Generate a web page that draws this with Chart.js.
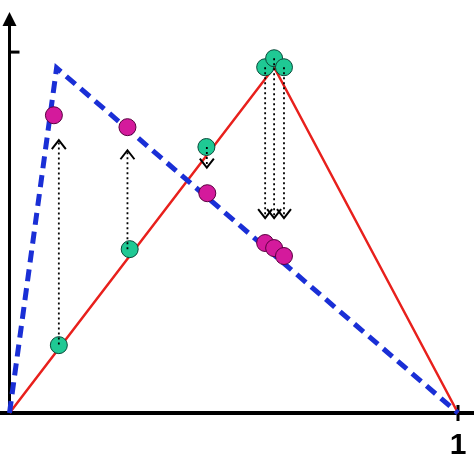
<!DOCTYPE html><html><head><script src="https://cdn.jsdelivr.net/npm/chart.js"></script>
<style>html,body{margin:0;background:#fff}#w{width:474px;height:474px}</style></head><body><div id="w"><canvas id="c"></canvas></div>
<script>
const redX=[0,0.59,1], redY=[0,0.958,0];
const blueX=[0,0.105,1], blueY=[0,0.956,0];
const greenX=[0.11,0.268,0.439,0.57,0.59,0.612], greenY=[0.188,0.454,0.737,0.958,0.983,0.958];
const magX=[0.099,0.263,0.441,0.57,0.59,0.612], magY=[0.825,0.792,0.609,0.471,0.457,0.435];
const arrowX=[0.11,0.263,0.44,0.57,0.59,0.612], arrowFrom=[0.19,0.454,0.737,0.958,0.983,0.958], arrowTo=[0.756,0.728,0.68,0.54,0.54,0.54];
const xTickLabels=['1'];
const pts=(xs,ys)=>xs.map((x,i)=>({x,y:ys[i]}));
const plug={id:'p',afterDraw(ch){const c=ch.ctx,xs=ch.scales.x,ys=ch.scales.y;c.save();
c.strokeStyle='#000';c.lineWidth=1.8;
arrowX.forEach((x,i)=>{const px=xs.getPixelForValue(x),a=ys.getPixelForValue(arrowFrom[i]),b=ys.getPixelForValue(arrowTo[i]);
c.setLineDash([2,3]);c.beginPath();c.moveTo(px,a);c.lineTo(px,b);c.stroke();
const d=b<a?1:-1;c.setLineDash([]);c.lineWidth=2;c.beginPath();c.moveTo(px-7,b+d*9);c.lineTo(px,b);c.lineTo(px+7,b+d*9);c.stroke();c.lineWidth=1.8;});
c.restore();}};
const axPlug={id:'ax',beforeDatasetsDraw(ch){const c=ch.ctx,xs=ch.scales.x,ys=ch.scales.y;c.save();c.fillStyle='#000';
const x0=xs.getPixelForValue(0),y0=ys.getPixelForValue(0);
c.fillRect(0,y0-2,474,4);c.fillRect(x0-1.5,24,3,y0-24);
c.beginPath();c.moveTo(x0-7,26);c.lineTo(x0,12);c.lineTo(x0+7,26);c.fill();
const y1=ys.getPixelForValue(1);c.fillRect(x0,y1-1.5,10,3);
const x1=xs.getPixelForValue(1);c.fillRect(x1-1.5,y0-8,3,16);
c.font='bold 30px "Liberation Sans",Arial';c.textAlign='center';c.textBaseline='top';c.fillText(xTickLabels[0],x1,y0+18);
c.restore();}};
new Chart(document.getElementById('c'),{type:'scatter',data:{datasets:[
{data:pts(greenX,greenY),backgroundColor:'#1fc994',borderColor:'#0a4a3a',borderWidth:1,pointRadius:8.5,order:0},
{data:pts(magX,magY),backgroundColor:'#d41a9c',borderColor:'#5a0040',borderWidth:1,pointRadius:8.5,order:0},
{type:'line',data:pts(redX,redY),borderColor:'#e8201c',borderWidth:2.5,pointRadius:0,order:2},
{type:'line',data:pts(blueX,blueY),borderColor:'#1a2fd6',borderWidth:5,borderDash:[12,7],pointRadius:0,order:1}
]},options:{responsive:true,maintainAspectRatio:false,animation:false,clip:false,
layout:{padding:{left:-4,right:16,top:16,bottom:61}},
plugins:{legend:{display:false},tooltip:{enabled:false}},
scales:{x:{type:'linear',min:0,max:1,display:false},y:{min:0,max:1.1,display:false}}},plugins:[axPlug,plug]});
</script></body></html>
